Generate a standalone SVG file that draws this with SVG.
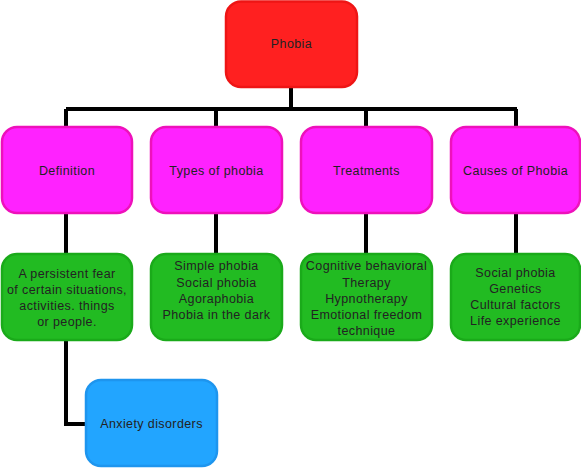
<svg xmlns="http://www.w3.org/2000/svg" width="581" height="468" viewBox="0 0 581 468">
<style>
text{font-family:"Liberation Sans",Arial,sans-serif;font-size:12.5px;fill:#222;text-anchor:middle;dominant-baseline:central;letter-spacing:0.4px}
.red{fill:#ff2020;stroke:#ee1515;stroke-width:2.5}
.mag{fill:#ff22ff;stroke:#ee11bb;stroke-width:2.5}
.grn{fill:#22bb22;stroke:#1aaa1a;stroke-width:2.5}
.blu{fill:#22a5ff;stroke:#1e95ee;stroke-width:2.5}
.c{fill:none;stroke:#000;stroke-width:4}
</style>
<rect width="581" height="468" fill="#fff"/>
<g id="connectors">
<path class="c" d="M291 87V109M66 109H517M66 109V127M216 109V127M366 109V127M516 109V127"/>
<path class="c" d="M66 213V254M216 213V254M366 213V254M516 213V254"/>
<path class="c" d="M66 340V424H86"/>
</g>
<g id="phobia"><rect class="red" x="226" y="1.5" width="131" height="85.5" rx="15"/><text x="291.5" y="44">Phobia</text></g>
<g id="definition"><rect class="mag" x="2" y="127" width="130" height="86" rx="15"/><text x="67" y="171">Definition</text></g>
<g id="types"><rect class="mag" x="151" y="127" width="131" height="86" rx="15"/><text x="216.5" y="171">Types of phobia</text></g>
<g id="treatments"><rect class="mag" x="301" y="127" width="131" height="86" rx="15"/><text x="366.5" y="171">Treatments</text></g>
<g id="causes"><rect class="mag" x="451" y="127" width="129" height="86" rx="15"/><text x="515.5" y="171">Causes of Phobia</text></g>
<g id="def-text"><rect class="grn" x="2" y="254" width="130" height="86" rx="15"/>
<text x="67" y="274">A persistent fear</text><text x="67" y="290">of certain situations,</text><text x="67" y="306">activities. things</text><text x="67" y="322">or people.</text></g>
<g id="types-text"><rect class="grn" x="151" y="254" width="131" height="86" rx="15"/>
<text x="216.5" y="266">Simple phobia</text><text x="216.5" y="282.5">Social phobia</text><text x="216.5" y="299">Agoraphobia</text><text x="216.5" y="314.5">Phobia in the dark</text></g>
<g id="treatments-text"><rect class="grn" x="301" y="254" width="131" height="86" rx="15"/>
<text x="366.5" y="266">Cognitive behavioral</text><text x="366.5" y="282.5">Therapy</text><text x="366.5" y="299">Hypnotherapy</text><text x="366.5" y="315">Emotional freedom</text><text x="366.5" y="330.5">technique</text></g>
<g id="causes-text"><rect class="grn" x="451" y="254" width="129" height="86" rx="15"/>
<text x="515.5" y="273">Social phobia</text><text x="515.5" y="289">Genetics</text><text x="515.5" y="305">Cultural factors</text><text x="515.5" y="321">Life experience</text></g>
<g id="anxiety"><rect class="blu" x="86" y="380" width="131" height="86" rx="15"/><text x="151.5" y="424">Anxiety disorders</text></g>
</svg>
